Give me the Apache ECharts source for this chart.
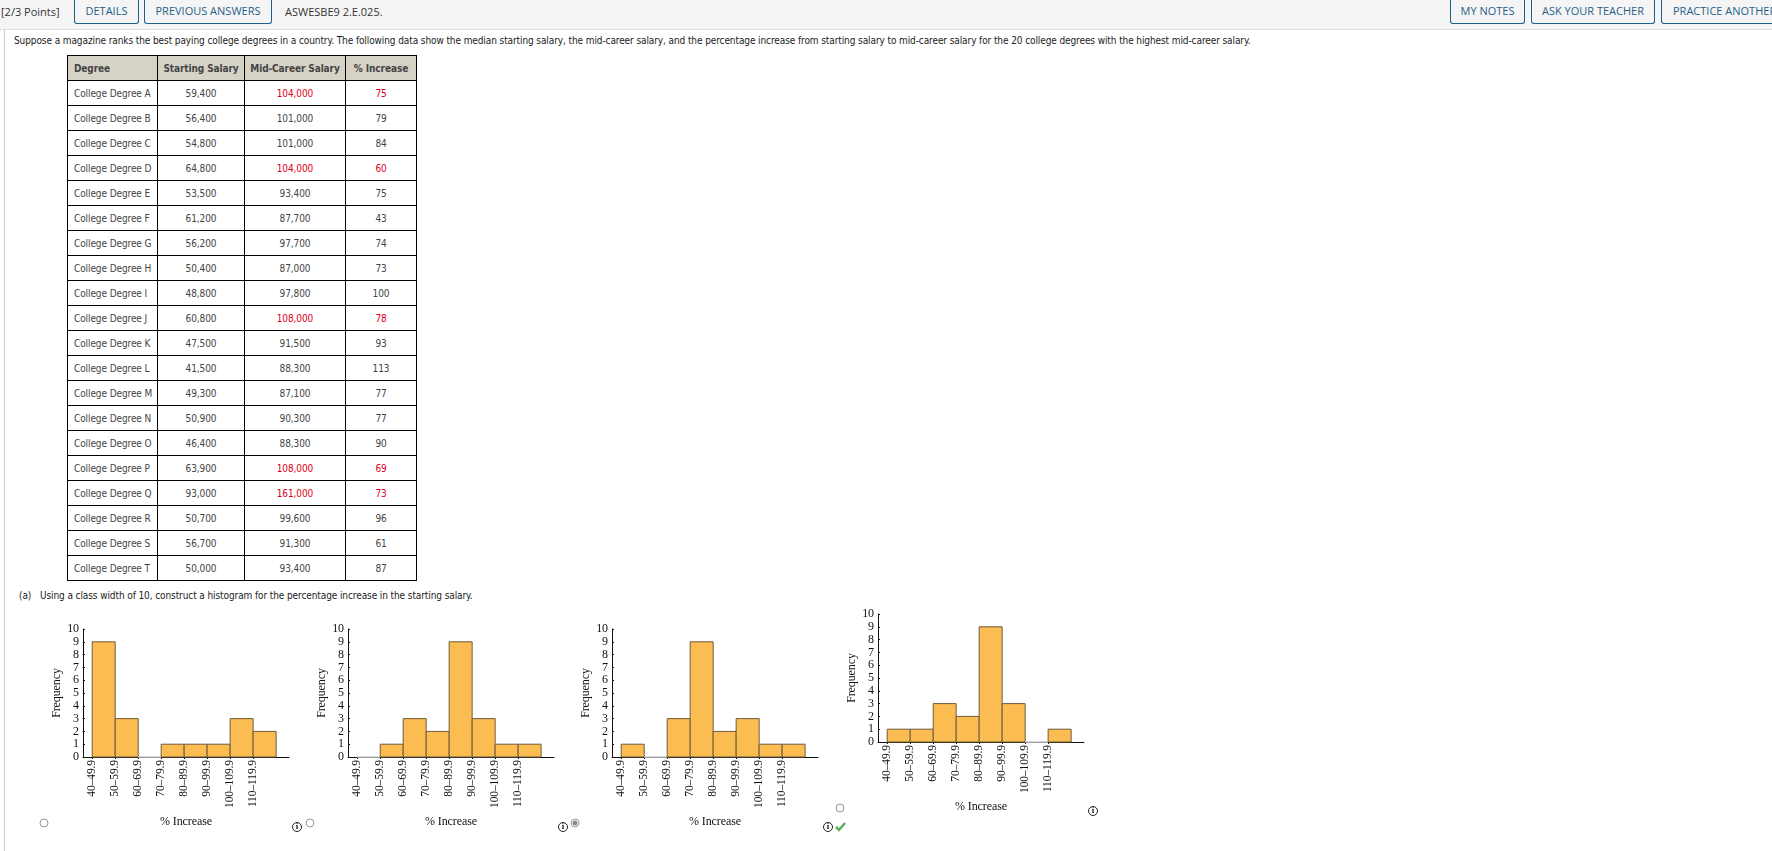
<!DOCTYPE html>
<html>
<head>
<meta charset="utf-8">
<title>ASWESBE9 2.E.025</title>
<script src="https://cdn.jsdelivr.net/npm/echarts@6/dist/echarts.min.js"></script>
<style>
  html, body { margin: 0; padding: 0; background: #fff; overflow: hidden; }
  body { width: 1772px; height: 851px; position: relative; font-family: "DejaVu Sans", sans-serif; font-stretch: condensed; letter-spacing: -0.1px; font-size: 10px; color: #333; }
  .bar { position: absolute; left: 0; top: 0; width: 1772px; height: 30px; background: #f5f5f5; border-bottom: 1px solid #ddd; box-sizing: border-box; }
  .side { position: absolute; left: 4px; top: 30px; bottom: 0; width: 1px; background: #ccc; }
  .btn { position: absolute; top: -1px; height: 25px; line-height: 24px; box-sizing: border-box; border: 1px solid #1f5f8b; border-top: 0; border-radius: 0 0 3px 3px; color: #1f5f8b; text-align: center; font-family: "Open Sans", sans-serif; font-stretch: normal; letter-spacing: 0; font-size: 11px; white-space: nowrap; overflow: hidden; }
  .plain { position: absolute; top: 4px; font-family: "Open Sans", sans-serif; font-stretch: normal; letter-spacing: 0; font-size: 11px; white-space: nowrap; }
  .txt { position: absolute; white-space: nowrap; color: #222; }
  table { position: absolute; left: 67px; top: 55px; width: 350px; border-collapse: collapse; table-layout: fixed; }
  td, th { border: 1px solid #000; height: 25px; padding: 0; text-align: center; font-weight: normal; color: #444; font-size: 10px; white-space: nowrap; box-sizing: border-box; }
  th { background: #d6d2c6; font-weight: bold; }
  .l { text-align: left; padding-left: 6px; }
  .red { color: #e00020; }
  #main { position: absolute; left: 0; top: 590px; width: 1772px; height: 261px; }
</style>
</head>
<body>
<div class="bar"></div>
<div class="side"></div>
<div class="plain" style="left:1px">[2/3 Points]</div>
<div class="btn" style="left:74px;width:65px">DETAILS</div>
<div class="btn" style="left:144px;width:128px">PREVIOUS ANSWERS</div>
<div class="plain" style="left:285px">ASWESBE9 2.E.025.</div>
<div class="btn" style="left:1450px;width:75px">MY NOTES</div>
<div class="btn" style="left:1531px;width:124px">ASK YOUR TEACHER</div>
<div class="btn" style="left:1661px;width:130px;text-align:left;padding-left:11px">PRACTICE ANOTHER</div>
<div class="txt" style="left:14px;top:35px">Suppose a magazine ranks the best paying college degrees in a country. The following data show the median starting salary, the mid-career salary, and the percentage increase from starting salary to mid-career salary for the 20 college degrees with the highest mid-career salary.</div>
<table id="tbl"></table>
<div class="txt" style="left:19px;top:590px">(a)</div>
<div class="txt" style="left:40px;top:590px">Using a class width of 10, construct a histogram for the percentage increase in the starting salary.</div>
<div id="main"></div>
<script>
var headers = ['Degree', 'Starting Salary', 'Mid-Career Salary', '% Increase'];
var degrees = ['A','B','C','D','E','F','G','H','I','J','K','L','M','N','O','P','Q','R','S','T'];
var starting = ['59,400','56,400','54,800','64,800','53,500','61,200','56,200','50,400','48,800','60,800','47,500','41,500','49,300','50,900','46,400','63,900','93,000','50,700','56,700','50,000'];
var midCareer = ['104,000','101,000','101,000','104,000','93,400','87,700','97,700','87,000','97,800','108,000','91,500','88,300','87,100','90,300','88,300','108,000','161,000','99,600','91,300','93,400'];
var increase = [75,79,84,60,75,43,74,73,100,78,93,113,77,77,90,69,73,96,61,87];
var redRows = ['A','D','J','P','Q'];

var binStarts = [40,50,60,70,80,90,100,110];
var tickLabels = ['40–49.9','50–59.9','60–69.9','70–79.9','80–89.9','90–99.9','100–109.9','110–119.9'];
var freqA = [9,3,0,1,1,1,3,2];
var freqB = [0,1,3,2,9,3,1,1];
var freqC = [1,0,3,9,2,3,1,1];
var freqD = [1,1,3,2,9,3,0,1];

// the table
var html = '<colgroup><col style="width:90px"><col style="width:87px"><col style="width:101px"><col style="width:71px"></colgroup>';
html += '<tr>' + headers.map(function (h, i) {
  return '<th' + (i === 0 ? ' class="l"' : '') + '>' + h + '</th>';
}).join('') + '</tr>';
degrees.forEach(function (d, i) {
  var c = redRows.indexOf(d) >= 0 ? ' class="red"' : '';
  html += '<tr><td class="l">College Degree ' + d + '</td><td>' + starting[i] + '</td><td' + c + '>' + midCareer[i] + '</td><td' + c + '>' + increase[i] + '</td></tr>';
});
document.getElementById('tbl').innerHTML = html;

var chart = echarts.init(document.getElementById('main'));

var serif = '"Liberation Serif", serif';
var ink = '#111';
var panels = [
  { left: 83, top: 39, freq: freqA },
  { left: 348, top: 39, freq: freqB },
  { left: 612, top: 39, freq: freqC },
  { left: 878, top: 24, freq: freqD }
];

function renderBin(params, api) {
  var x = api.value(0);
  var f = api.value(1);
  var a = api.coord([x, f]);
  var b = api.coord([x + 10, 0]);
  return {
    type: 'rect',
    shape: { x: a[0], y: a[1], width: b[0] - a[0], height: b[1] - a[1] },
    style: f === 0 ? { fill: 'none', stroke: '#ccc', lineWidth: 1 } : { fill: '#fbbc52', stroke: '#6e5c3c', lineWidth: 1 }
  };
}

var grids = [], xAxes = [], yAxes = [], series = [];
panels.forEach(function (p, i) {
  grids.push({ left: p.left, top: p.top, width: 206, height: 128 });
  xAxes.push({
    type: 'value', gridIndex: i, min: 36, max: 125.6,
    name: '% Increase', nameLocation: 'middle', nameGap: 59,
    nameTextStyle: { fontFamily: serif, fontSize: 12, color: ink },
    splitLine: { show: false },
    axisLine: { onZero: false, lineStyle: { color: ink, width: 1 } },
    axisTick: { customValues: binStarts, length: 2, inside: false, lineStyle: { color: ink } },
    axisLabel: {
      customValues: binStarts, rotate: 90, margin: 3, hideOverlap: false,
      fontFamily: serif, fontSize: 11.5, color: ink,
      formatter: function (v) { return tickLabels[binStarts.indexOf(v)]; }
    }
  });
  yAxes.push({
    type: 'value', gridIndex: i, min: 0, max: 10, interval: 1,
    name: 'Frequency', nameLocation: 'middle', nameGap: 19,
    nameTextStyle: { fontFamily: serif, fontSize: 12, color: ink },
    splitLine: { show: false },
    axisLine: { show: true, lineStyle: { color: ink, width: 1 } },
    axisTick: { show: true, inside: true, length: 2, lineStyle: { color: ink } },
    axisLabel: { margin: 4, fontFamily: serif, fontSize: 12, color: ink }
  });
  series.push({
    type: 'custom', xAxisIndex: i, yAxisIndex: i, renderItem: renderBin, silent: true, clip: false,
    encode: { x: 0, y: 1 },
    data: binStarts.map(function (s, j) { return [s, p.freq[j]]; })
  });
});

// radio buttons, info marks and the check mark beside the answer choices
function radio(x, y, on) {
  var els = [{ type: 'circle', shape: { cx: x, cy: y, r: 4 }, style: { fill: '#fff', stroke: '#999', lineWidth: 1 } }];
  if (on) els.push({ type: 'circle', shape: { cx: x, cy: y, r: 2.5 }, style: { fill: '#888' } });
  return els;
}
function info(x, y) {
  return [
    { type: 'circle', shape: { cx: x, cy: y, r: 4.5 }, style: { fill: '#fff', stroke: '#222', lineWidth: 1 } },
    { type: 'text', style: { x: x, y: y, text: 'i', fontFamily: serif, fontSize: 9, fontWeight: 'bold', fill: '#222', align: 'center', verticalAlign: 'middle' } }
  ];
}
var marks = [].concat(
  radio(44, 233), info(297, 237),
  radio(310, 233), info(563, 237),
  radio(575, 233, true), info(828, 237),
  radio(840, 218), info(1093, 221),
  [{ type: 'polyline', shape: { points: [[836, 237], [839, 240], [845, 233]] }, style: { fill: 'none', stroke: '#5cb05c', lineWidth: 2.5 } }]
);

chart.setOption({
  animation: false,
  grid: grids,
  xAxis: xAxes,
  yAxis: yAxes,
  series: series,
  graphic: { elements: marks }
});
</script>
</body>
</html>
